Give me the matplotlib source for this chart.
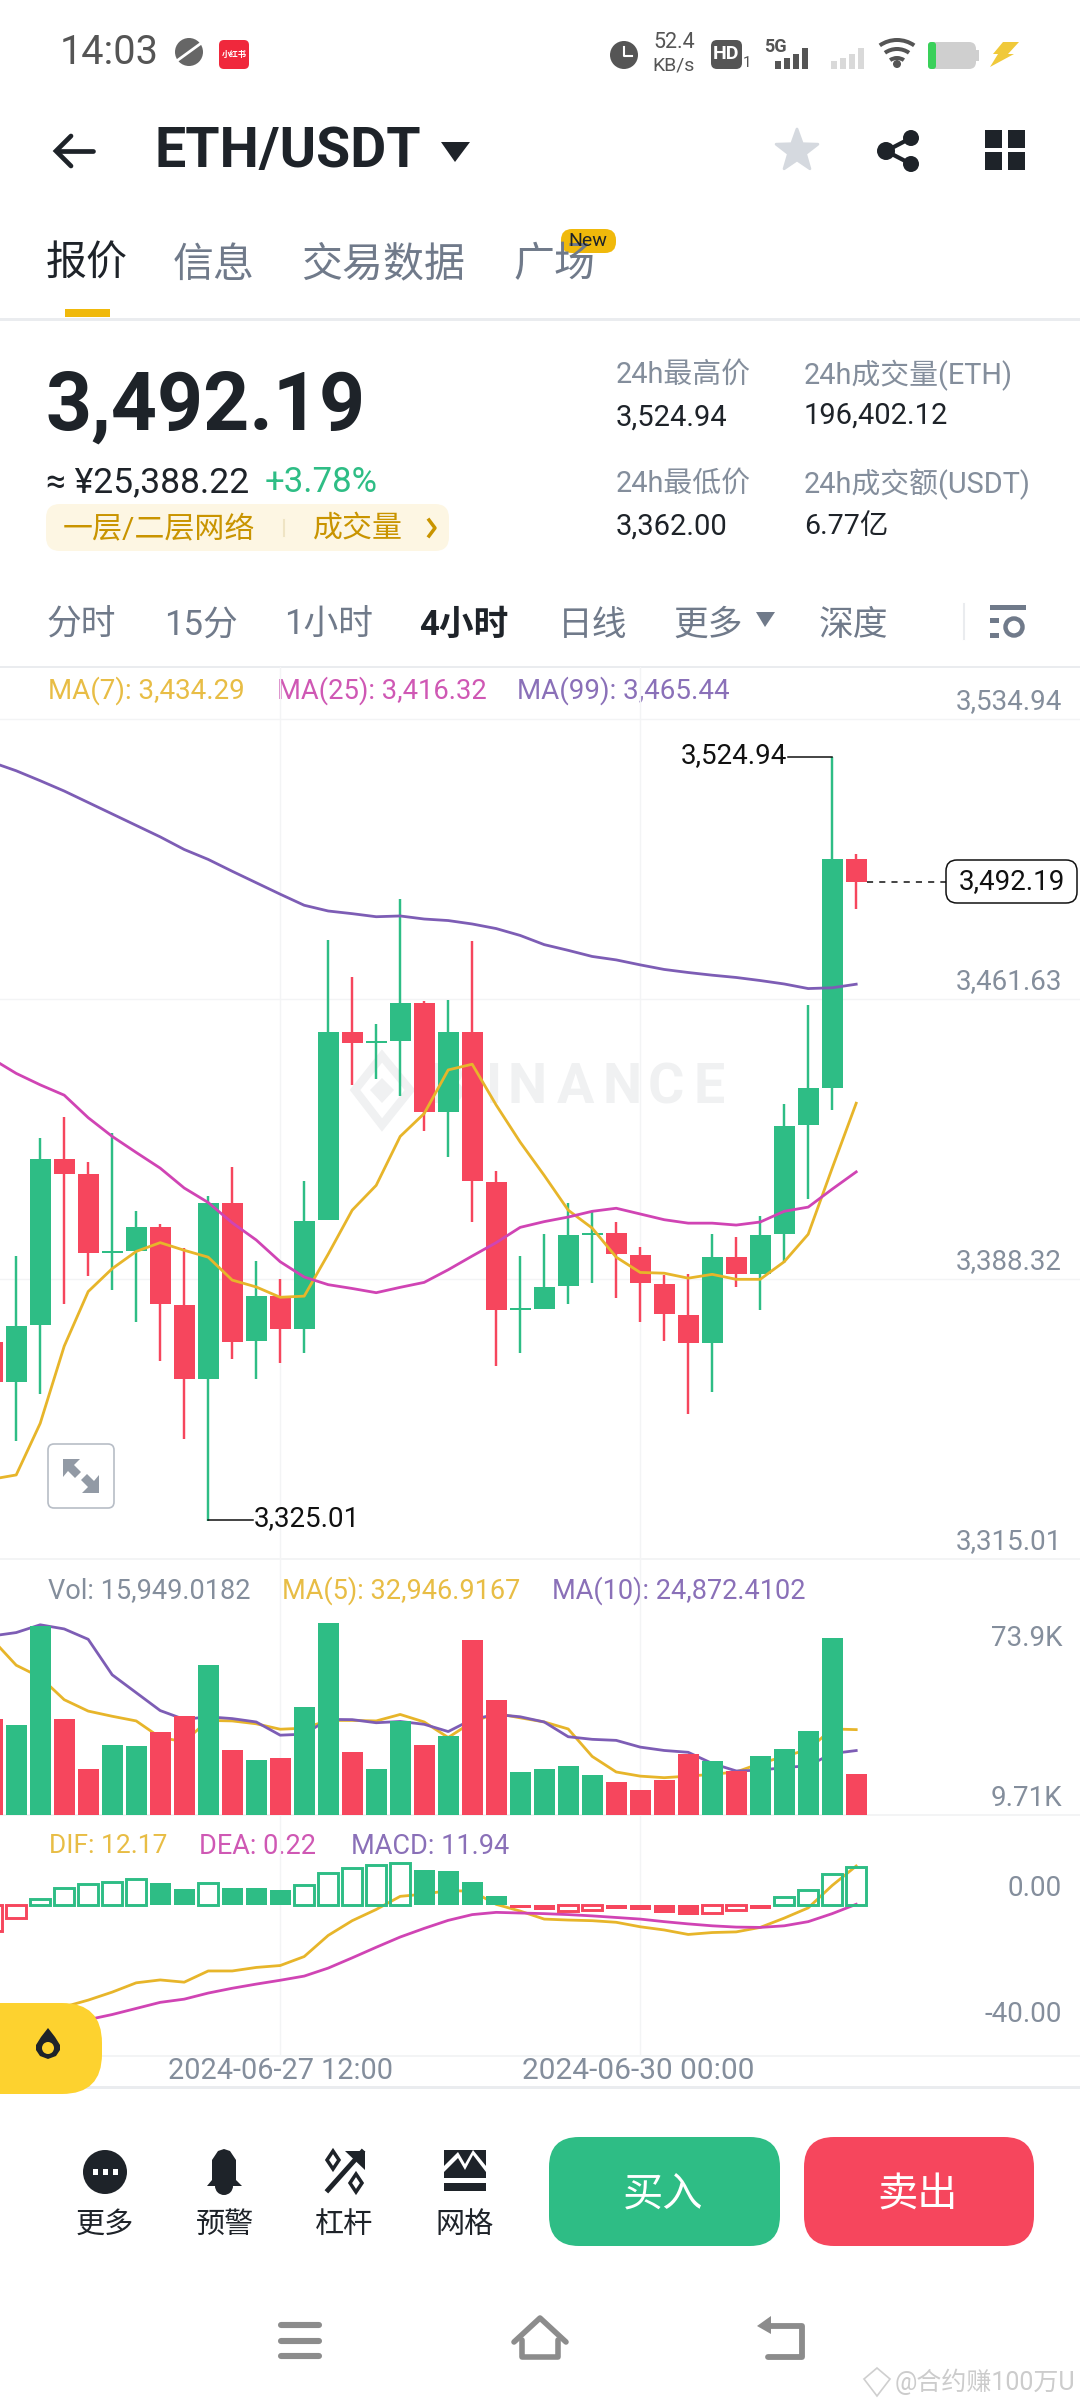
import numpy as np
import matplotlib
matplotlib.use('Agg')
import matplotlib.pyplot as plt
from matplotlib.patches import Circle, FancyBboxPatch, Polygon, Rectangle, Wedge

FONT = ['Roboto', 'Noto Sans CJK SC', 'DejaVu Sans']
plt.rcParams['font.family'] = FONT

UP = '#2ebd85'
DOWN = '#f6465d'
DARK = '#1e2329'
GRAY = '#848e9c'
GOLD = '#c99400'
LINE = '#eaecef'
GRID = '#f3f4f5'
YEL = '#e7b52a'
PINK = '#d044b4'
PUR = '#7d5db5'

# candles, first one is cut by the left edge
opens = [3371.8, 3361.3, 3376.3, 3419.7, 3415.7, 3395.0, 3395.5, 3401.8, 3381.4, 3362.0, 3408.2, 3372.1, 3383.8,
         3375.3, 3403.8, 3452.8, 3450.1, 3450.7, 3460.4, 3432.0, 3452.8, 3413.7, 3380.1, 3380.4, 3386.5, 3399.8,
         3400.3, 3394.5, 3387.1, 3378.9, 3371.5, 3394.0, 3389.5, 3400.0, 3428.6, 3438.4, 3498.1]
highs = [3380.0, 3394.3, 3425.3, 3430.8, 3418.8, 3426.5, 3406.1, 3402.7, 3396.4, 3410.0, 3417.5, 3393.0, 3388.3,
         3414.0, 3477.0, 3467.3, 3455.0, 3487.8, 3461.0, 3461.3, 3476.7, 3416.6, 3394.3, 3400.0, 3408.3, 3405.8,
         3403.3, 3396.6, 3389.2, 3389.5, 3400.0, 3399.3, 3404.8, 3434.0, 3460.1, 3524.94, 3499.6]
lows = [3350.0, 3346.0, 3358.3, 3381.7, 3389.1, 3385.3, 3377.1, 3366.7, 3346.3, 3325.01, 3367.3, 3362.0, 3366.2,
        3368.9, 3403.8, 3439.1, 3440.6, 3436.1, 3427.1, 3420.3, 3403.3, 3365.5, 3368.9, 3380.4, 3381.7, 3387.3,
        3383.2, 3377.1, 3372.1, 3352.9, 3358.7, 3386.2, 3380.1, 3392.5, 3409.1, 3432.6, 3485.1]
closes = [3361.3, 3376.0, 3419.7, 3415.8, 3395.2, 3395.6, 3401.8, 3381.7, 3362.0, 3408.2, 3371.8, 3383.8, 3375.3,
          3403.5, 3452.8, 3450.1, 3450.7, 3460.4, 3432.0, 3452.8, 3413.9, 3380.1, 3380.7, 3386.2, 3399.7, 3400.4,
          3394.8, 3387.3, 3379.2, 3371.5, 3394.0, 3389.5, 3399.7, 3428.4, 3438.2, 3498.1, 3492.19]

ma7 = [3335.9, 3337.0, 3350.5, 3370.7, 3385.0, 3391.0, 3395.5, 3397.8, 3395.8, 3394.0, 3388.0, 3386.2, 3383.5,
       3383.8, 3394.8, 3406.3, 3412.8, 3425.6, 3431.6, 3443.0, 3444.5, 3433.8, 3424.1, 3415.4, 3406.3, 3401.6,
       3394.0, 3390.0, 3389.8, 3388.5, 3389.5, 3388.2, 3388.2, 3392.8, 3400.0, 3417.3, 3434.29]
ma25 = [3445.9, 3442.1, 3439.1, 3436.4, 3430.5, 3425.6, 3421.4, 3417.3, 3412.1, 3408.3, 3403.0, 3398.5, 3392.8,
        3388.8, 3386.8, 3385.8, 3384.7, 3386.1, 3387.4, 3390.7, 3394.3, 3397.8, 3401.8, 3403.3, 3404.5, 3406.0,
        3406.8, 3405.3, 3403.8, 3402.9, 3402.9, 3402.4, 3403.2, 3406.0, 3407.1, 3411.8, 3416.32]
ma99 = [3523.5, 3521.3, 3518.7, 3516.0, 3513.0, 3510.0, 3507.0, 3504.0, 3500.7, 3498.1, 3495.0, 3492.0, 3489.0,
        3486.1, 3484.6, 3483.9, 3483.1, 3483.3, 3482.5, 3482.1, 3481.2, 3480.0, 3478.2, 3475.8, 3474.3, 3472.7,
        3471.8, 3470.5, 3469.3, 3468.5, 3467.8, 3467.2, 3466.4, 3465.5, 3464.3, 3464.5, 3465.44]

volumes = [36946, 34820, 72829, 36946, 17676, 26846, 26713, 32029, 38275, 58077, 25251, 21264, 22061, 41731, 73900,
           24188, 17676, 36149, 26979, 30567, 67646, 44256, 16613, 17676, 19005, 15416, 12891, 9710, 13556, 23523,
           20732, 17011, 22593, 25384, 32561, 68311, 15949]
vol_ma5 = [67800, 57800, 53200, 44500, 40100, 38100, 36300, 29900, 28300, 36500, 36300, 35200, 33100, 33500, 36500,
           36500, 36300, 38800, 35900, 29900, 35900, 39200, 37500, 35900, 33200, 22600, 16600, 15000, 14400, 15000,
           15700, 16600, 19900, 22600, 25300, 33200, 32947]
vol_ma10 = [69100, 70400, 73400, 71800, 67800, 54100, 47200, 40300, 36900, 37900, 37200, 35900, 30800, 31200, 36900,
            36800, 35600, 36100, 35000, 32200, 36900, 38800, 37900, 35900, 30200, 29200, 28800, 26200, 24900, 24200,
            19900, 17000, 17300, 18300, 19000, 23700, 24872]

macd = [-8.2, -4.1, 1.8, 5.4, 6.5, 7.2, 8.0, 6.9, 5.1, 6.9, 5.4, 5.4, 4.7, 6.1, 9.9, 11.7, 12.6, 13.1, 11.0, 10.6,
        7.3, 2.8, -1.0, -1.7, -1.9, -1.7, -1.4, -1.7, -2.6, -3.2, -2.5, -1.7, -1.3, 2.6, 4.7, 9.7, 11.94]
macd_hollow = [1, 1, 1, 1, 1, 1, 1, 0, 0, 1, 0, 0, 0, 1, 1, 1, 1, 1, 0, 0, 0, 0, 0, 0, 1, 1, 0, 0, 0, 0, 1, 1, 0, 1,
               1, 1, 1]
dif = [-40.1, -37.4, -34.2, -31.8, -29.7, -27.2, -24.3, -23.4, -24.1, -20.6, -20.6, -19.5, -18.9, -16.1, -9.5, -4.9,
       -1.4, 2.7, 3.4, 4.5, 4.3, 0.2, -1.9, -4.4, -4.7, -4.9, -5.4, -6.8, -7.8, -9.2, -8.6, -8.4, -7.0, -4.1, -0.9,
       6.1, 12.17]
dea = [-45.5, -42.8, -40.1, -38.0, -35.8, -34.2, -32.3, -30.4, -29.4, -27.5, -26.0, -24.7, -23.5, -22.2, -19.7,
       -16.5, -13.2, -10.0, -7.3, -4.8, -3.0, -2.3, -2.5, -2.7, -3.0, -3.4, -3.9, -4.4, -5.2, -5.9, -6.5, -6.9, -7.0,
       -6.5, -5.2, -2.7, 0.22]

price_ticks = [3534.94, 3461.63, 3388.32, 3315.01]
grid_idx = [11, 26]
date_labels = ['2024-06-27 12:00', '2024-06-30 00:00']

x = np.arange(-1, 36)
W, H = 1080, 2400
fig = plt.figure(figsize=(10.8, 24), dpi=100, facecolor='white')


def px_axes(zorder):
    a = fig.add_axes([0, 0, 1, 1], zorder=zorder)
    a.set_xlim(0, W)
    a.set_ylim(H, 0)
    a.axis('off')
    a.patch.set_alpha(0)
    return a


def chart_axes(top, bottom, ylim):
    a = fig.add_axes([0, 1 - bottom / H, 1, (bottom - top) / H], zorder=1)
    a.set_xlim(-16.2 / 24, (W - 16.2) / 24)
    a.set_ylim(*ylim)
    a.axis('off')
    a.patch.set_alpha(0)
    for g in grid_idx:
        a.axvline(g, color=GRID, lw=1, zorder=0)
    return a


def T(a, x0, y0, s, size, color=DARK, ha='left', weight='normal', **kw):
    a.text(x0, y0 + 3, s, fontsize=size, color=color, ha=ha, va='center', weight=weight, **kw)


def rbox(a, x0, y0, x1, y1, r, fc, ec='none', lw=0, z=2):
    a.add_patch(FancyBboxPatch((x0 + r, y0 + r), x1 - x0 - 2 * r, y1 - y0 - 2 * r,
                               boxstyle='round,pad=%f' % r, fc=fc, ec=ec, lw=lw, zorder=z))


ui = px_axes(0)
top = px_axes(2)

# ---- status bar
T(ui, 60, 49, '14:03', 28.5, '#555555')
ui.add_patch(Circle((189, 52), 14, fc='#666666', ec='none'))
ui.plot([178, 200], [60, 44], color='white', lw=2)
rbox(ui, 219, 40, 249, 69, 5, '#f0283c')
T(ui, 234, 51, '小红书', 6, 'white', ha='center', weight='bold', zorder=3)
ui.add_patch(Circle((624, 55), 14, fc='#555555', ec='none'))
ui.plot([624, 624, 632], [47, 56, 56], color='white', lw=1.5)
T(ui, 674, 40, '52.4', 15.5, '#555555', ha='center')
T(ui, 674, 62, 'KB/s', 14, '#555555', ha='center')
rbox(ui, 711, 40, 742, 69, 6, '#555555')
T(ui, 726, 51, 'HD', 14, 'white', ha='center', weight='bold', zorder=3)
T(ui, 747, 60, '1', 11, '#555555', ha='center')
T(ui, 775, 44, '5G', 13, '#555555', ha='center', weight='bold')
for i, h in enumerate([8, 11, 15, 21]):
    ui.add_patch(Rectangle((775 + i * 9, 69 - h), 6, h, fc='#555555', ec='none'))
    ui.add_patch(Rectangle((831 + i * 9, 69 - h), 6, h, fc='#d9d9d9', ec='none'))
for r in [32, 23, 14]:
    ui.add_patch(Wedge((897, 70), r, 235, 305, width=4, fc='#555555', ec='none'))
ui.add_patch(Circle((897, 64), 4, fc='#555555', ec='none'))
rbox(ui, 928, 42, 976, 69, 7, '#cfcfcf')
rbox(ui, 928, 42, 936, 69, 3, '#3ad05a', z=3)
ui.add_patch(Rectangle((976, 50), 3, 11, fc='#cfcfcf', ec='none'))
ui.add_patch(Polygon([[1003, 42], [1019, 42], [1008, 54], [1014, 54], [990, 67], [998, 54], [993, 54]],
                     fc='#f0c93a', ec='none'))

# ---- header
ui.plot([93, 57], [151, 151], color=DARK, lw=3.4, solid_capstyle='round')
ui.plot([71, 56, 71], [136, 151, 166], color=DARK, lw=3.4, solid_capstyle='round', solid_joinstyle='miter')
T(ui, 155, 149, 'ETH/USDT', 40, DARK, weight='bold')
ui.add_patch(Polygon([[441, 142], [470, 142], [455, 162]], fc=DARK, ec='none'))
star = [[797 + (22 if i % 2 == 0 else 9) * np.sin(i * np.pi / 5), 151 - (22 if i % 2 == 0 else 9) * np.cos(i * np.pi / 5)]
        for i in range(10)]
ui.add_patch(Polygon(star, fc='#d5d9df', ec='#d5d9df', lw=2, joinstyle='round'))
ui.plot([911, 886, 911], [138, 151, 164], color=DARK, lw=3)
for cx, cy, r in [(911, 138, 8), (886, 151, 9), (911, 164, 8)]:
    ui.add_patch(Circle((cx, cy), r, fc=DARK, ec='none'))
for cx, cy in [(985, 130), (1008, 130), (985, 152), (1008, 152)]:
    ui.add_patch(Rectangle((cx, cy), 17, 18, fc=DARK, ec='none'))

# ---- tabs
T(ui, 46, 262, '报价', 29.5, DARK, weight=500)
T(ui, 173, 262, '信息', 29.5, '#707a8a')
T(ui, 301, 262, '交易数据', 29.5, '#707a8a')
T(ui, 513, 262, '广场', 29.5, '#707a8a')
rbox(ui, 561, 229, 616, 253, 11, '#f0b90b')
T(ui, 588, 238, 'New', 14, DARK, ha='center', zorder=3)
ui.add_patch(Rectangle((65, 309), 45, 8, fc='#f0b90b', ec='none'))
ui.add_patch(Rectangle((0, 318), W, 3, fc=LINE, ec='none'))

# ---- price block
T(ui, 46, 405, '3,492.19', 58, DARK, weight='bold')
T(ui, 46, 480, '≈ ¥25,388.22', 25.5, DARK)
T(ui, 265, 480, '+3.78%', 25, UP)
rbox(ui, 46, 504, 449, 551, 14, '#fdf6e3')
T(ui, 63, 526, '一层/二层网络', 21.6, GOLD, zorder=3)
ui.plot([284, 284], [520, 536], color='#efe4c4', lw=1.5, zorder=3)
T(ui, 313, 526, '成交量', 21.6, GOLD, zorder=3)
ui.plot([429, 435, 429], [520, 528, 536], color=GOLD, lw=2.5, zorder=3)
T(ui, 616, 372, '24h最高价', 20.8, GRAY)
T(ui, 616, 415, '3,524.94', 21, DARK)
T(ui, 804, 372, '24h成交量(ETH)', 20.8, GRAY)
T(ui, 804, 413, '196,402.12', 21, DARK)
T(ui, 616, 481, '24h最低价', 20.8, GRAY)
T(ui, 616, 524, '3,362.00', 21, DARK)
T(ui, 804, 481, '24h成交额(USDT)', 20.8, GRAY)
T(ui, 804, 523, '6.77亿', 20.5, DARK)

# ---- interval row
for lab, xp, col, wt in [('分时', 46, '#707a8a', 'normal'), ('15分', 164, '#707a8a', 'normal'),
                         ('1小时', 284, '#707a8a', 'normal'), ('4小时', 419, DARK, 'bold'),
                         ('日线', 558, '#707a8a', 'normal'), ('更多', 673, '#707a8a', 'normal'),
                         ('深度', 819, '#707a8a', 'normal')]:
    T(ui, xp, 622, lab, 25, col, weight=wt)
ui.add_patch(Polygon([[756, 612], [775, 612], [765, 627]], fc='#707a8a', ec='none'))
ui.plot([964, 964], [604, 639], color=LINE, lw=1.5)
ui.add_patch(Rectangle((990, 605), 36, 5, fc='#707a8a', ec='none'))
ui.add_patch(Rectangle((990, 618), 9, 5, fc='#707a8a', ec='none'))
ui.add_patch(Rectangle((990, 633), 9, 5, fc='#707a8a', ec='none'))
ui.add_patch(Circle((1014, 627), 8.5, fc='white', ec='#707a8a', lw=3.2))
ui.add_patch(Rectangle((0, 666), W, 2, fc=LINE, ec='none'))

# ---- watermark under the candles
MARK = '#f0f1f2'
ui.add_patch(Polygon([[382, 1056], [410, 1090], [382, 1125], [355, 1090]], fc='none', ec=MARK, lw=6))
ui.add_patch(Polygon([[382, 1078], [394, 1090], [382, 1103], [370, 1090]], fc=MARK, ec='none'))
for ch, xp in zip('BINANCE', [447, 494, 527, 575, 622, 666, 709]):
    T(ui, xp, 1085, ch, 40, MARK, ha='center', weight='bold')

# ---- price pane
ax = chart_axes(667, 1559, (3315.0, 3548.46))
ax.hlines(price_ticks, -1, 45, color=GRID, lw=1, zorder=0)
body_lo = np.minimum(opens, closes)
body_hi = np.maximum(opens, closes)
colors = [UP if c >= o else DOWN for o, c in zip(opens, closes)]
ax.vlines(x, lows, highs, color=colors, lw=1.75, zorder=2)
ax.bar(x, body_hi - body_lo, 0.865, body_lo, color=colors, lw=0, zorder=3)
ax.plot(x, ma7, color=YEL, lw=2, zorder=4)
ax.plot(x, ma25, color=PINK, lw=2, zorder=4)
ax.plot(x, ma99, color=PUR, lw=2, zorder=4)

T(ui, 48, 688, 'MA(7): 3,434.29', 20, '#e8bd45')
T(ui, 277, 688, 'MA(25): 3,416.32', 19.7, '#cf58b4')
T(ui, 517, 688, 'MA(99): 3,465.44', 20, '#8a70b8')
for lab, yp in zip(['3,534.94', '3,461.63', '3,388.32', '3,315.01'], [699, 979, 1259, 1539]):
    T(ui, 1062, yp, lab, 20, GRAY, ha='right')

T(top, 681, 753, '3,524.94', 20, '#111111')
top.plot([788, 832], [756.5, 756.5], color='#111111', lw=1.1)
top.plot([208, 253], [1519.5, 1519.5], color='#111111', lw=1.1)
T(top, 254, 1516, '3,325.01', 20, '#111111')
top.plot([867, 946], [881.5, 881.5], color='#111111', lw=1.1, dashes=(4, 4))
rbox(top, 946, 860, 1077, 903, 11, 'white', '#111111', 1.1)
T(top, 1012, 879, '3,492.19', 20, '#111111', ha='center', zorder=5)

rbox(top, 48, 1444, 114, 1508, 6, 'white', '#b7bdc6', 1.2)
top.add_patch(Polygon([[63, 1459], [80, 1459], [74, 1465], [81, 1472], [75, 1478], [68, 1471], [63, 1477]],
                      fc='#929aa5', ec='none', zorder=3))
top.add_patch(Polygon([[99, 1493], [82, 1493], [88, 1487], [81, 1480], [87, 1474], [94, 1481], [99, 1475]],
                      fc='#929aa5', ec='none', zorder=3))

# ---- volume pane
vax = chart_axes(1559, 1815, (0, 98790))
vax.plot(x, vol_ma5, color=YEL, lw=2, zorder=2)
vax.plot(x, vol_ma10, color=PUR, lw=2, zorder=2)
vax.bar(x, volumes, 0.865, color=colors, lw=0, zorder=3)
ui.add_patch(Rectangle((0, 1558), W, 2, fc=GRID, ec='none'))
ui.add_patch(Rectangle((0, 1814), W, 2, fc=GRID, ec='none'))
T(ui, 48, 1588, 'Vol: 15,949.0182', 19.5, GRAY)
T(ui, 282, 1588, 'MA(5): 32,946.9167', 19.5, '#e8bd45')
T(ui, 552, 1588, 'MA(10): 24,872.4102', 19.5, '#8a70b8')
T(ui, 1062, 1636, '73.9K', 20, GRAY, ha='right')
T(ui, 1062, 1795, '9.71K', 20, GRAY, ha='right')

# ---- macd pane
max_ = chart_axes(1815, 2056, (-47.15, 28.1))
max_.plot(x, dif, color=YEL, lw=2, zorder=2)
max_.plot(x, dea, color=PINK, lw=2, zorder=2)
macd_col = [UP if v > 0 else DOWN for v in macd]
for xi, v, c, hollow in zip(x, macd, macd_col, macd_hollow):
    if hollow:
        max_.bar(xi, v, 0.81, fc='none', ec=c, lw=2.1, zorder=3)
    else:
        max_.bar(xi, v, 0.865, color=c, lw=0, zorder=3)
T(ui, 49, 1843, 'DIF: 12.17', 19, '#e8bd45')
T(ui, 199, 1843, 'DEA: 0.22', 19.5, '#cf58b4')
T(ui, 351, 1843, 'MACD: 11.94', 19.5, '#8a70b8')
T(ui, 1062, 1885, '0.00', 20, GRAY, ha='right')
T(ui, 1062, 2012, '-40.00', 20, GRAY, ha='right')

# ---- time axis
ui.add_patch(Rectangle((0, 2055), W, 2, fc=GRID, ec='none'))
ui.add_patch(Rectangle((0, 2086), W, 3, fc=LINE, ec='none'))
for g, lab, fs, dx in zip(grid_idx, date_labels, [20.8, 21.5], [0, -2]):
    T(ui, 16.2 + 24 * g + dx, 2068, lab, fs, GRAY, ha='center')

# yellow floating button
rbox(top, -60, 2003, 102, 2094, 40, '#fdd22f')
top.add_patch(Polygon([[48, 2028], [55, 2037], [60, 2045], [60, 2050], [56, 2056], [48, 2059], [40, 2056], [36, 2050],
                       [36, 2045], [41, 2037]], fc=DARK, ec='none', zorder=3))
top.add_patch(Circle((48, 2048), 6, fc='#fdd22f', ec='none', zorder=4))

# ---- bottom actions
ui.add_patch(Circle((105, 2172), 22, fc=DARK, ec='none'))
for xp in [95, 105, 115]:
    ui.add_patch(Rectangle((xp - 2.5, 2169), 5, 6, fc='white', ec='none', zorder=2))
ui.add_patch(Polygon([[212, 2180], [212, 2160], [218, 2151], [224, 2149], [230, 2151], [236, 2160], [236, 2180],
                      [242, 2186], [207, 2186]], fc=DARK, ec='none'))
ui.add_patch(Wedge((224, 2186), 9, 0, 180, fc=DARK, ec='none'))
ui.plot([328, 362], [2190, 2152], color=DARK, lw=3.5)
ui.add_patch(Polygon([[345, 2151], [365, 2151], [365, 2170]], fc=DARK, ec='none'))
for cx, cy in [(333, 2160), (356, 2183)]:
    ui.add_patch(Polygon([[cx, cy - 9], [cx + 6, cy], [cx, cy + 9], [cx - 6, cy]], fc='white', ec=DARK, lw=2.5, zorder=3))
ui.add_patch(Rectangle((444, 2150), 42, 28, fc=DARK, ec='none'))
ui.add_patch(Polygon([[444, 2172], [458, 2158], [465, 2170], [473, 2155], [486, 2172], [486, 2166], [473, 2150],
                      [465, 2164], [458, 2152], [444, 2166]], fc='white', ec='none', zorder=2))
ui.add_patch(Rectangle((444, 2183), 42, 8, fc=DARK, ec='none'))
for lab, xp in [('更多', 105), ('预警', 225), ('杠杆', 344), ('网格', 465)]:
    T(ui, xp, 2222, lab, 21, DARK, ha='center')
rbox(ui, 549, 2137, 780, 2246, 30, UP)
rbox(ui, 804, 2137, 1034, 2246, 30, DOWN)
T(ui, 663, 2193, '买入', 29, 'white', ha='center', weight=500, zorder=5)
T(ui, 918, 2193, '卖出', 29, 'white', ha='center', weight=500, zorder=5)

# ---- nav bar
NAV = '#8c8c8c'
for yp in [2325, 2341, 2356]:
    ui.plot([281, 319], [yp, yp], color=NAV, lw=4.4, solid_capstyle='round')
ui.plot([514, 540, 566], [2342, 2318, 2342], color=NAV, lw=4, solid_capstyle='round')
ui.plot([522, 522, 558, 558], [2340, 2357, 2357, 2340], color=NAV, lw=4, solid_capstyle='round')
ui.plot([767, 802, 802, 768], [2326, 2326, 2357, 2357], color=NAV, lw=4.2, solid_capstyle='round')
ui.add_patch(Polygon([[771, 2316], [771, 2334], [757, 2326]], fc=NAV, ec='none'))

# ---- site mark
ui.add_patch(Polygon([[877, 2368], [890, 2379], [877, 2396], [864, 2379]], fc='none', ec='#cfcfcf', lw=1.2))
T(ui, 895, 2379, '@合约赚100万U', 18, '#cccccc')

fig.savefig('out.png', dpi=100, facecolor='white')
